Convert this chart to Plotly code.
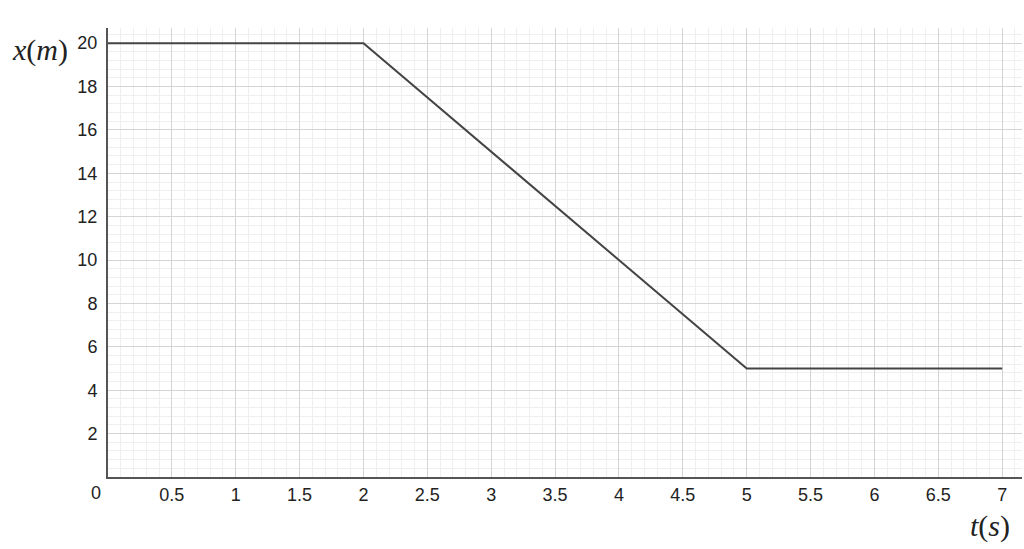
import plotly.graph_objects as go

t_vals = [0, 2, 5, 7]
x_vals = [20, 20, 5, 5]

x_ticks = [0.5, 1, 1.5, 2, 2.5, 3, 3.5, 4, 4.5, 5, 5.5, 6, 6.5, 7]
x_tick_text = ["0.5", "1", "1.5", "2", "2.5", "3", "3.5", "4", "4.5", "5", "5.5", "6", "6.5", "7"]
y_ticks = [2, 4, 6, 8, 10, 12, 14, 16, 18, 20]
y_tick_text = ["2", "4", "6", "8", "10", "12", "14", "16", "18", "20"]

fig = go.Figure()
fig.add_trace(go.Scatter(x=t_vals, y=x_vals, mode="lines",
                         line=dict(color="#444444", width=2), showlegend=False,
                         hoverinfo="skip"))

tick_font = dict(family="Liberation Sans, Arial, sans-serif", size=18, color="#222222")
label_font = dict(family="Liberation Serif, DejaVu Serif, serif", size=30, color="#222222")

fig.update_layout(
    width=1024, height=549,
    margin=dict(l=108, r=2, t=28, b=72),
    paper_bgcolor="white", plot_bgcolor="white",
    xaxis=dict(
        range=[0, 7.155], tickvals=x_ticks, ticktext=x_tick_text,
        showgrid=True, gridcolor="#d4d4d4", gridwidth=1,
        minor=dict(dtick=0.1, tick0=0, showgrid=True, gridcolor="#efefef", gridwidth=1),
        showline=True, linecolor="#555555", linewidth=2,
        ticks="", tickfont=tick_font, zeroline=False, fixedrange=True,
    ),
    yaxis=dict(
        range=[0, 20.7], tickvals=y_ticks, ticktext=y_tick_text,
        showgrid=True, gridcolor="#d4d4d4", gridwidth=1,
        minor=dict(dtick=0.4, tick0=0, showgrid=True, gridcolor="#efefef", gridwidth=1),
        showline=True, linecolor="#555555", linewidth=2,
        ticks="outside", ticklen=5, tickcolor="rgba(0,0,0,0)",
        tickfont=tick_font, zeroline=False, fixedrange=True,
    ),
)

fig.add_annotation(text="0", xref="paper", yref="paper", x=-0.0131, y=-0.0356,
                   xanchor="center", yanchor="middle", showarrow=False, font=tick_font)
fig.add_annotation(text="<i>x</i>(<i>m</i>)", xref="paper", yref="paper", x=-0.0744, y=0.951,
                   xanchor="center", yanchor="middle", showarrow=False, font=label_font)
fig.add_annotation(text="<i>t</i>(<i>s</i>)", xref="paper", yref="paper", x=0.965, y=-0.11,
                   xanchor="center", yanchor="middle", showarrow=False, font=label_font)

fig.write_html("out.html", config={"displayModeBar": False},
               post_script="document.body.style.margin='0px';")
